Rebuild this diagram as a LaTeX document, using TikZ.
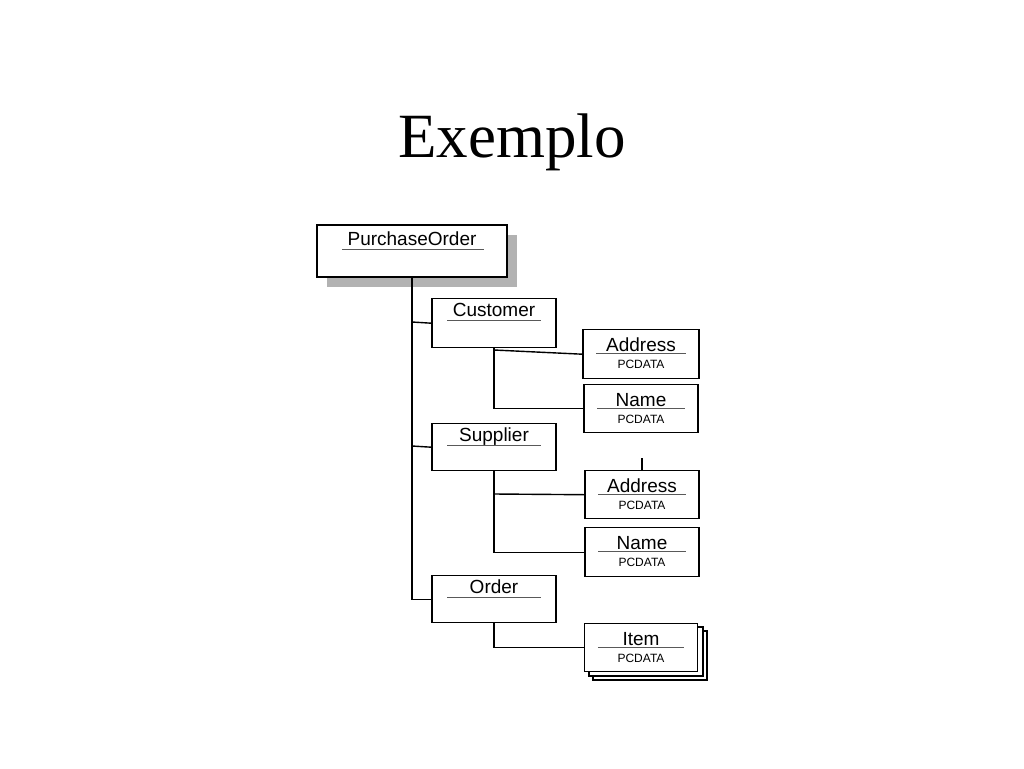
\documentclass[tikz,border=0pt]{standalone}
\usepackage{fontspec}
\setmainfont{Liberation Serif}
\newfontfamily\boxfont{Liberation Sans}
\usetikzlibrary{calc}
\newcommand{\elbox}[6]{% name, cx, top, w, h, label
  \node[bx,minimum width=#4,minimum height=#5,anchor=north] (#1) at (#2,#3) {};
  \node[ttl] (#1t) at (#2,#3+18) {#6};
  \draw[ul] ($(#1.north west)+(16,22)$) -- ($(#1.north east)+(-16,22)$);}
\newcommand{\leafbox}[6]{%
  \node[bx,minimum width=#4,minimum height=#5,anchor=north] (#1) at (#2,#3) {};
  \node[ttl] (#1t) at (#2,#3+22) {#6};
  \draw[ul] ($(#1.north west)+(14,24)$) -- ($(#1.north east)+(-14,24)$);
  \node[sub] (#1s) at (#2,#3+39) {PCDATA};}
\begin{document}
\begin{tikzpicture}[x=1pt,y=-1pt,
 bx/.style={draw=black,line width=1.4pt,fill=white,rectangle,inner sep=0pt},
 ln/.style={line width=1.4pt,black},
 ttl/.style={font=\boxfont\fontsize{19}{19}\selectfont,inner sep=0pt,anchor=base},
 sub/.style={font=\boxfont\fontsize{12}{12}\selectfont,inner sep=0pt,anchor=base},
 ul/.style={gray!70!black,line width=1pt}]
\useasboundingbox (0,0) rectangle (1024,768);
\node[font=\fontsize{63}{63}\selectfont,anchor=base] (title) at (512,157) {Exemplo};
% PurchaseOrder
\fill[gray!60] (327,235) rectangle (517,287);
\node[bx,minimum width=190,minimum height=52] (po) at (412,251) {};
\node[ttl] (pot) at (412,245) {PurchaseOrder};
\draw[ul] (342,249.5) -- (484,249.5);
% second level
\elbox{cust}{494}{298}{124}{49}{Customer}
\elbox{supp}{494}{423}{124}{47}{Supplier}
\elbox{ord}{494}{575}{124}{47}{Order}
% leaves
\leafbox{cadr}{641}{329}{116}{49}{Address}
\leafbox{cnam}{641}{384}{114}{48}{Name}
\leafbox{sadr}{642}{470}{114}{48}{Address}
\leafbox{snam}{642}{527}{114}{49}{Name}
\draw[ln] (sadr.north) -- ++(0,-12);
% Item stack
\draw[ln,fill=white] (593,631) rectangle (707,680);
\draw[ln,fill=white] (589,627) rectangle (703,676);
\leafbox{item}{641}{623}{113}{48}{Item}
% connectors
\draw[ln] (po.south -| 412,0) |- (ord.west);
\draw[ln] (412,322) -- (cust.west);
\draw[ln] (412,446) -- (supp.west);
\draw[ln] (cust.south) |- (cnam.west);
\draw[ln] (494,350) -- (cadr.west);
\draw[ln] (supp.south) |- (snam.west);
\draw[ln] (494,494) -- (sadr.west);
\draw[ln] (ord.south) |- (item.west);
\end{tikzpicture}
\end{document}
